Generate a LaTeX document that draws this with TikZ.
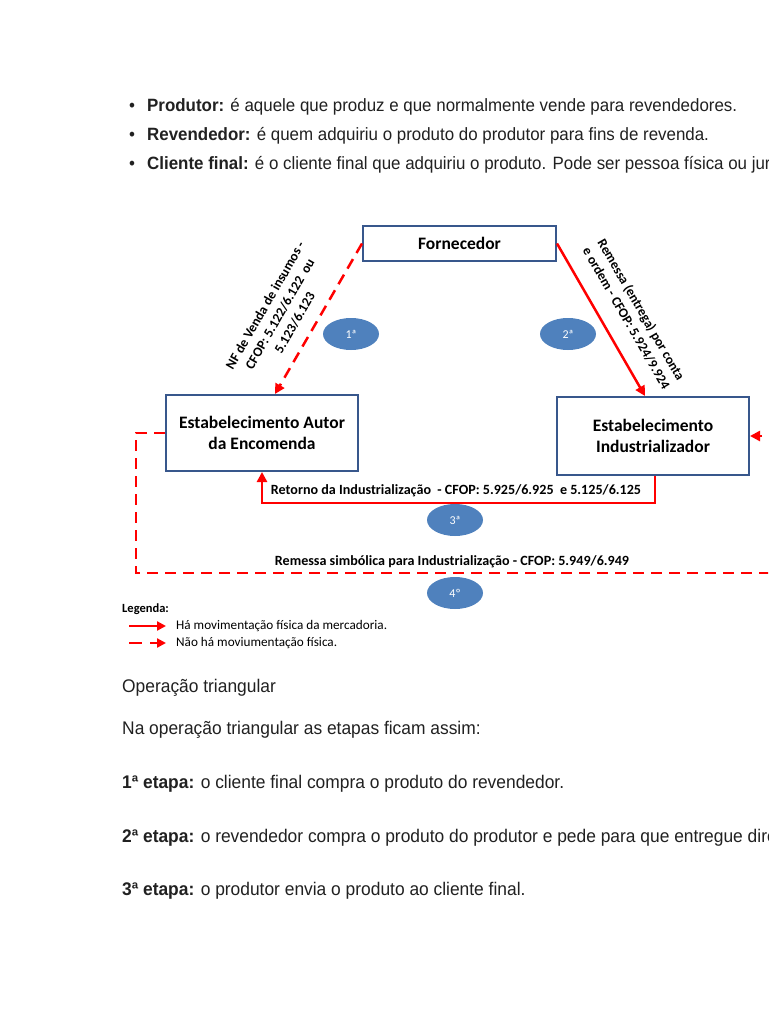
\documentclass[tikz,border=0pt]{standalone}
\usepackage{fontspec}
\setmainfont{Liberation Sans}
\newfontfamily\robo[FakeStretch=0.95]{Liberation Sans}
\newfontfamily\carl{Carlito}
\usetikzlibrary{shapes.geometric,arrows.meta}
\definecolor{boxblue}{RGB}{56,87,140}
\definecolor{arrred}{RGB}{255,0,0}
\definecolor{ellblue}{RGB}{79,129,189}
\definecolor{bodytext}{RGB}{33,33,33}
\begin{document}
\begin{tikzpicture}[x=1pt,y=-1pt,
  entity/.style={draw=boxblue, line width=2pt, fill=white, align=center,
    font=\carl\bfseries\fontsize{17.5}{21}\selectfont, inner sep=0pt},
  marker/.style={ellipse, fill=ellblue, minimum width=56pt, minimum height=32pt,
    text=white, font=\carl\fontsize{12}{14}\selectfont, inner sep=0pt},
  phys/.style={draw=arrred, line width=2.5pt, -{Triangle[length=10pt,width=10pt]}},
  nophys/.style={phys, dash pattern=on 11pt off 7pt},
  lbl/.style={font=\carl\bfseries\fontsize{13.5}{17}\selectfont, align=center, inner sep=0pt},
  hlbl/.style={font=\carl\bfseries\fontsize{14.1}{16}\selectfont, inner sep=0pt},
  leg/.style={font=\carl\fontsize{13.2}{15}\selectfont, anchor=west, inner sep=0pt},
  body/.style={font=\robo\fontsize{17.8}{21}\selectfont, text=bodytext, anchor=base west, inner sep=0pt},
  bodyb/.style={body, font=\robo\fontsize{18.3}{21}\selectfont}
]
\useasboundingbox (0,0) rectangle (768,1024);
\clip (0,0) rectangle (768,1024);
\fill[white] (0,0) rectangle (768,1024);

% top bullets
\node[body] (b1d) at (129,112) {\textbullet};
\node[body] (b1) at (147,112) {\textbf{Produtor:} é aquele que produz e que normalmente vende para revendedores.};
\node[body] (b2d) at (129,141) {\textbullet};
\node[body] (b2) at (147,141) {\textbf{Revendedor:} é quem adquiriu o produto do produtor para fins de revenda.};
\node[body] (b3d) at (129,170) {\textbullet};
\node[body] (b3) at (147,170) {\textbf{Cliente final:} é o cliente final que adquiriu o produto. Pode ser pessoa física ou jurídica.};

% boxes
\node[entity, minimum width=193pt, minimum height=35pt] (forn) at (459.5,243.5) {Fornecedor};
\node[entity, minimum width=192pt, minimum height=76pt] (autor) at (262,433) {Estabelecimento Autor\\da Encomenda};
\node[entity, minimum width=192pt, minimum height=78pt] (indus) at (653,436) {Estabelecimento\\Industrializador};

% connectors
\draw[nophys] (forn.west) -- ([xshift=13pt]autor.north);
\draw[phys] (forn.east) -- ([xshift=-8pt]indus.north);
\draw[phys] ([xshift=2pt]indus.south) -- ++(0,27) -| (autor.south);
\draw[nophys] (autor.west) -- ++(-29,0) |- (800,573) |- (indus.east);

% labels
\node[lbl, rotate=60] (l1) at (280,314) {NF de Venda de insumos -\\CFOP: 5.122/6.122 \ ou\\5.123/6.123};
\node[lbl, rotate=-60] (l2) at (634,314) {Remessa (entrega) por conta\\e ordem - CFOP: 5.924/9.924};
\node[hlbl] (l3) at (456,491) {Retorno da Industrialização \ - CFOP: 5.925/6.925 \ e 5.125/6.125};
\node[hlbl] (l4) at (452,562) {Remessa simbólica para Industrialização - CFOP: 5.949/6.949};

% step markers
\node[marker] (m1) at (351,334) {1ª};
\node[marker] (m2) at (568,334) {2ª};
\node[marker] (m3) at (455,520) {3ª};
\node[marker] (m4) at (455,593) {4º};

% legend
\node[leg, font=\carl\bfseries\fontsize{12.5}{14}\selectfont] (legt) at (122,609) {Legenda:};
\coordinate (la1) at (129,626);
\coordinate (lb1) at (166,626);
\coordinate (la2) at (129,643);
\coordinate (lb2) at (166,643);
\draw[phys, line width=2.5pt, -{Triangle[length=9pt,width=9pt]}] (la1) -- (lb1);
\draw[phys, dash pattern=on 13pt off 8pt, line width=2.5pt, -{Triangle[length=9pt,width=9pt]}] (la2) -- (lb2);
\node[leg] (lg1) at (176,626) {Há movimentação física da mercadoria.};
\node[leg] (lg2) at (176,643) {Não há moviumentação física.};

% bottom text
\node[bodyb] (t1) at (122,692) {Operação triangular};
\node[bodyb] (t2) at (122,734) {Na operação triangular as etapas ficam assim:};
\node[bodyb] (t3) at (122,788) {\textbf{1ª etapa:} o cliente final compra o produto do revendedor.};
\node[bodyb] (t4) at (122,842) {\textbf{2ª etapa:} o revendedor compra o produto do produtor e pede para que entregue diretamente ao cliente final.};
\node[bodyb] (t5) at (122,895) {\textbf{3ª etapa:} o produtor envia o produto ao cliente final.};
\end{tikzpicture}
\end{document}
